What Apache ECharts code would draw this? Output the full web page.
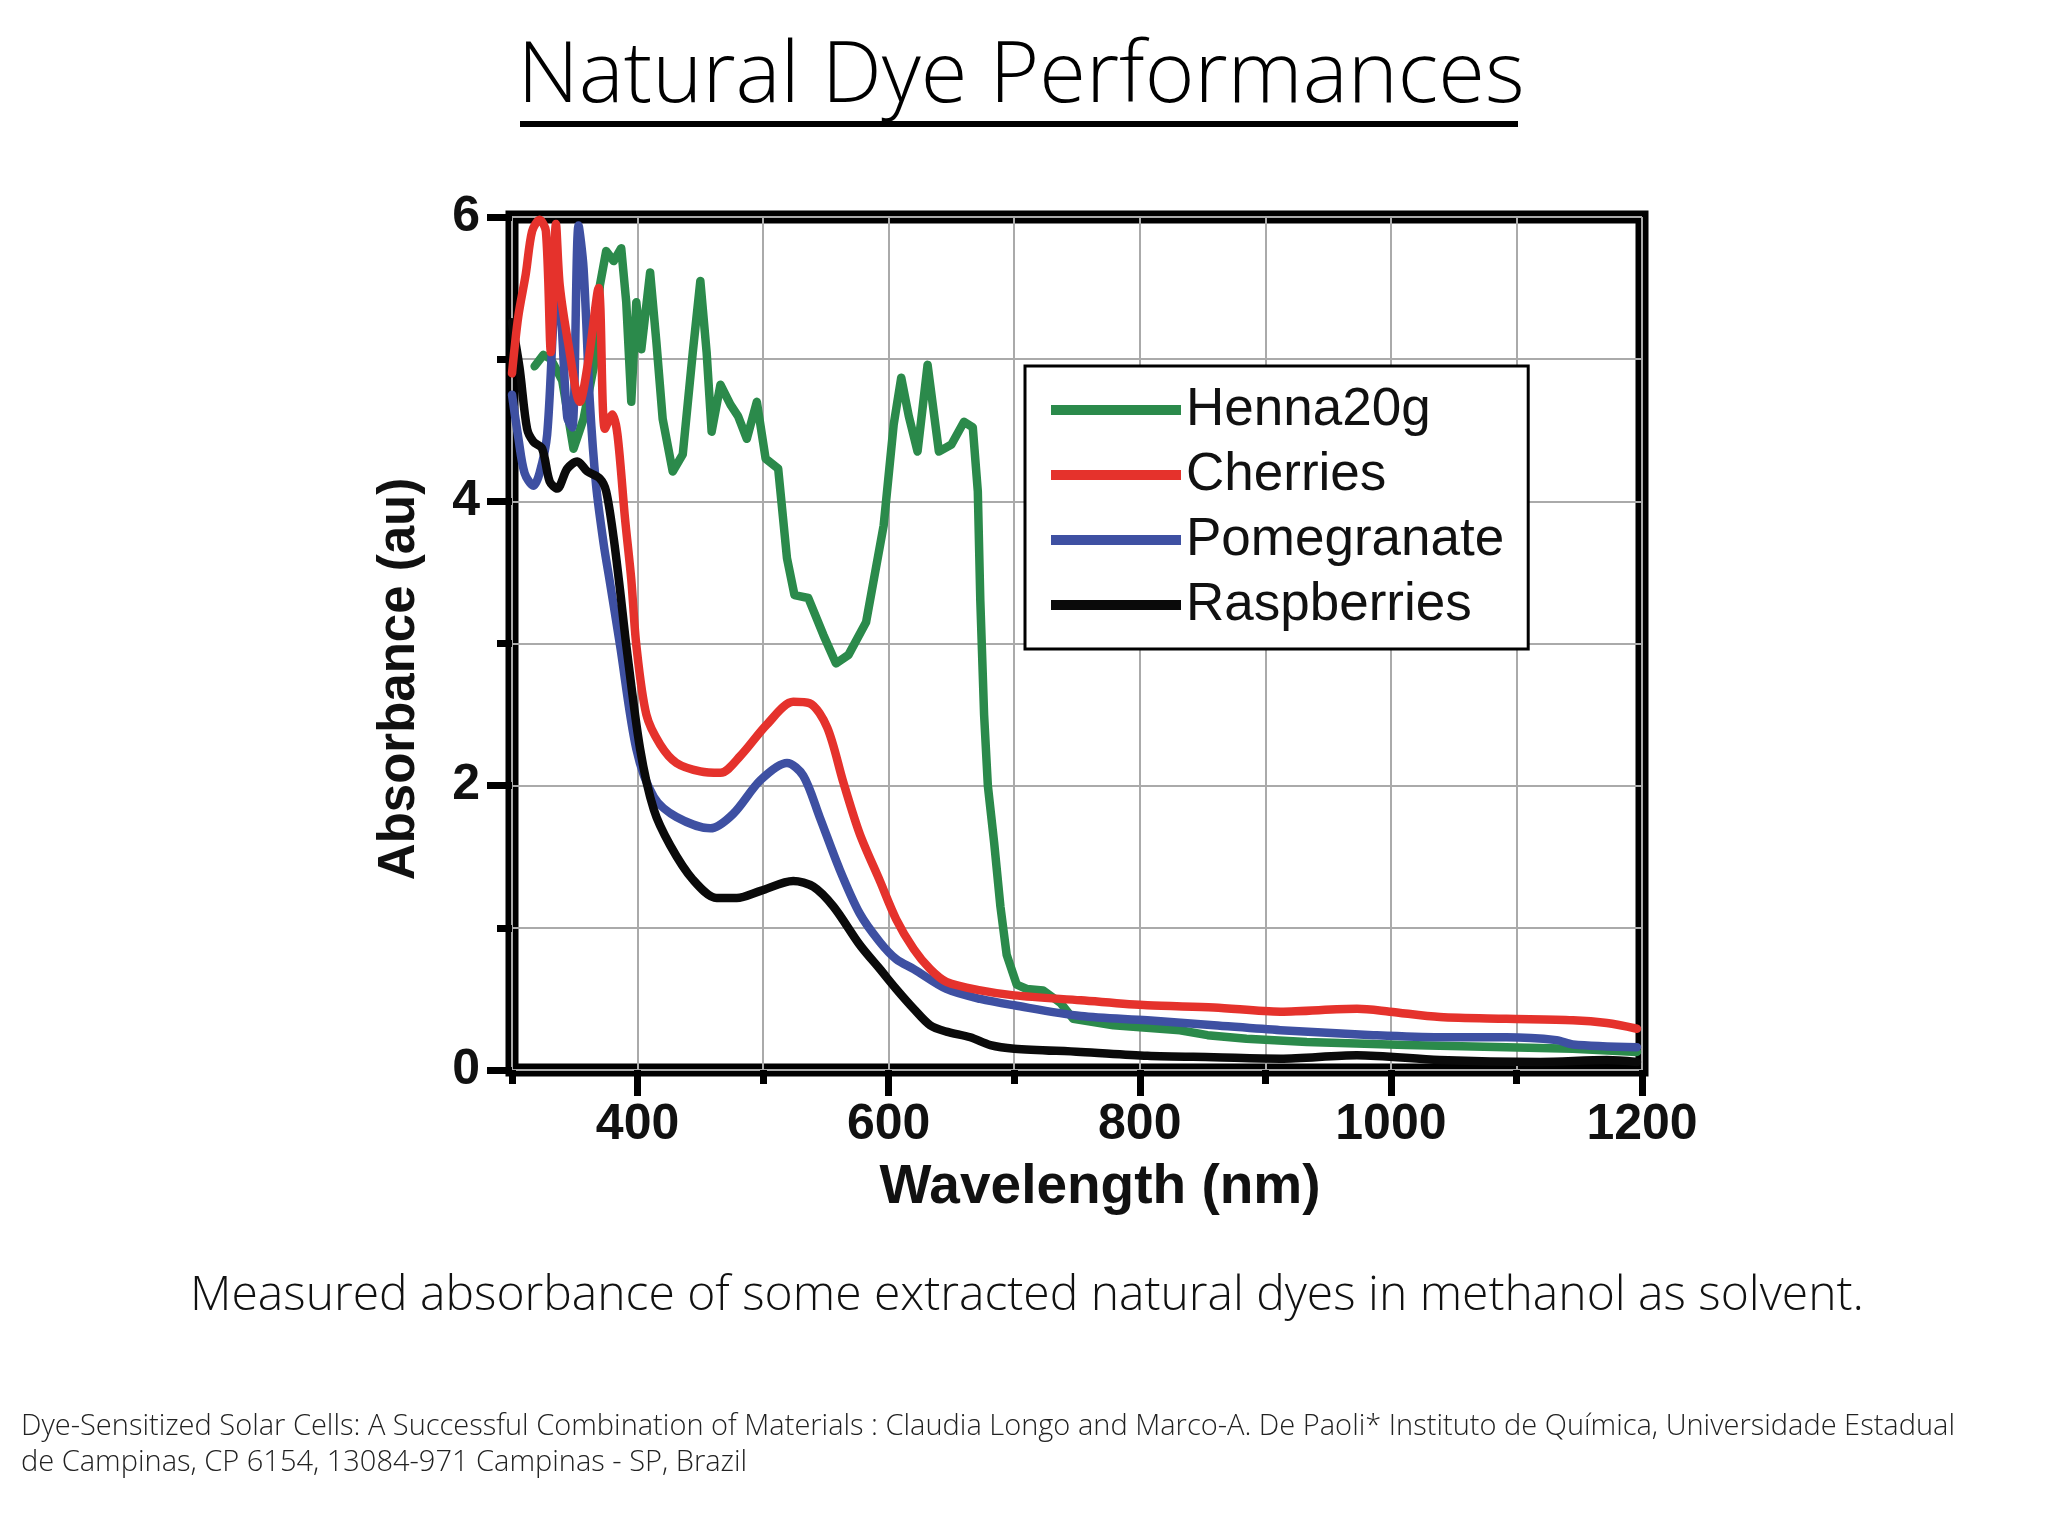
<!DOCTYPE html>
<html>
<head>
<meta charset="utf-8">
<script src="https://cdn.jsdelivr.net/npm/echarts@6/dist/echarts.min.js"></script>
<style>
  html, body { margin: 0; padding: 0; background: #fff; }
  #main { width: 2048px; height: 1536px; }
</style>
</head>
<body>
<div id="main"></div>
<script>
// wavelength (nm) / absorbance (au)
const hennaX = [318, 325, 331, 340, 349, 357, 365, 370, 375, 381, 387, 391, 395, 399, 403, 410, 415, 420, 428, 436, 444, 450, 455, 459, 466, 474, 480, 487, 495, 502, 512, 519, 525, 536, 548, 558, 568, 582, 596, 604, 610, 616, 623, 631, 640, 650, 660, 667, 671, 673, 676, 679, 684, 689, 694, 702, 710, 723, 737, 747, 779, 832, 854, 885, 933, 1012, 1092, 1145, 1196]
const hennaY = [4.95, 5.03, 5.0, 4.85, 4.37, 4.58, 4.94, 5.52, 5.76, 5.69, 5.78, 5.4, 4.7, 5.4, 5.07, 5.61, 5.12, 4.58, 4.21, 4.33, 5.05, 5.55, 5.05, 4.49, 4.82, 4.68, 4.6, 4.44, 4.7, 4.3, 4.23, 3.6, 3.34, 3.32, 3.06, 2.86, 2.92, 3.15, 3.83, 4.54, 4.87, 4.6, 4.35, 4.96, 4.35, 4.4, 4.56, 4.52, 4.07, 3.3, 2.5, 2.0, 1.6, 1.15, 0.81, 0.6, 0.57, 0.56, 0.47, 0.36, 0.315, 0.28, 0.245, 0.22, 0.197, 0.175, 0.16, 0.15, 0.127]

const cherriesX = [300, 305, 311, 316, 322, 327, 331, 335, 338, 345, 354, 361, 369, 374, 380, 384, 390, 395, 399, 407, 418, 431, 450, 466, 482, 503, 524, 537, 551, 564, 577, 593, 606, 620, 633, 646, 673, 700, 753, 806, 859, 912, 973, 999, 1039, 1092, 1145, 1172, 1196]
const cherriesY = [4.9, 5.3, 5.6, 5.9, 5.98, 5.9, 5.05, 5.95, 5.52, 5.1, 4.7, 5.0, 5.5, 4.51, 4.61, 4.47, 3.88, 3.45, 2.99, 2.5, 2.29, 2.16, 2.1, 2.09, 2.21, 2.43, 2.59, 2.58, 2.41, 2.02, 1.66, 1.33, 1.06, 0.85, 0.71, 0.62, 0.56, 0.525, 0.49, 0.455, 0.44, 0.41, 0.43, 0.41, 0.372, 0.36, 0.35, 0.33, 0.29]

const pomegranateX = [300, 305, 310, 317, 322, 328, 334, 337, 344, 348, 353, 357, 362, 367, 373, 378, 386, 399, 413, 431, 458, 476, 498, 519, 532, 545, 561, 577, 593, 606, 620, 646, 673, 700, 753, 806, 859, 912, 986, 1039, 1092, 1132, 1145, 1196]
const pomegranateY = [4.75, 4.45, 4.2, 4.11, 4.2, 4.47, 5.4, 5.43, 4.59, 4.52, 5.94, 5.64, 4.7, 4.11, 3.7, 3.43, 2.99, 2.26, 1.92, 1.78, 1.7, 1.8, 2.04, 2.16, 2.07, 1.78, 1.41, 1.1, 0.9, 0.78, 0.71, 0.57, 0.5, 0.455, 0.38, 0.35, 0.315, 0.28, 0.245, 0.23, 0.23, 0.21, 0.18, 0.16]

const raspberriesX = [300, 306, 312, 317, 324, 330, 336, 344, 352, 360, 370, 375, 381, 386, 391, 402, 413, 426, 444, 463, 479, 498, 524, 540, 556, 577, 593, 606, 620, 633, 646, 665, 681, 700, 753, 806, 859, 912, 973, 1039, 1119, 1172, 1196]
const raspberriesY = [5.26, 4.94, 4.51, 4.42, 4.37, 4.14, 4.09, 4.23, 4.28, 4.21, 4.16, 4.07, 3.74, 3.38, 2.99, 2.26, 1.83, 1.58, 1.34, 1.21, 1.21, 1.26, 1.33, 1.29, 1.15, 0.88, 0.71, 0.57, 0.43, 0.315, 0.27, 0.23, 0.175, 0.15, 0.127, 0.1, 0.09, 0.08, 0.104, 0.07, 0.057, 0.07, 0.057]

const seriesNames = ['Henna20g', 'Cherries', 'Pomegranate', 'Raspberries']
const xMajorTicks = [400, 600, 800, 1000, 1200]
const yMajorTicks = [0, 2, 4, 6]

const pairs = (xs, ys) => xs.map((x, i) => [x, ys[i]])

const chart = echarts.init(document.getElementById('main'))

const tickFont = { color: '#111', fontFamily: 'Liberation Sans', fontWeight: 'bold', fontSize: 50 }

function lineSeries(name, xs, ys, color, smooth) {
  return {
    name: name,
    type: 'line',
    xAxisIndex: 0,
    yAxisIndex: 0,
    showSymbol: false,
    symbol: 'none',
    smooth: smooth,
    lineStyle: { color: color, width: 8.5, join: 'round', cap: 'round' },
    itemStyle: { color: color },
    data: pairs(xs, ys)
  }
}

const option = {
  backgroundColor: '#fff',
  animation: false,
  grid: {
    left: 512,
    top: 217,
    width: 1130,
    height: 853,
    show: true,
    borderColor: '#000',
    borderWidth: 13,
    backgroundColor: 'transparent'
  },
  xAxis: [
    {
      type: 'value',
      min: 300,
      max: 1200,
      interval: 100,
      axisLine: { show: false },
      axisTick: { show: true, inside: false, length: 14, lineStyle: { color: '#000', width: 7 } },
      axisLabel: {
        margin: 30,
        ...tickFont,
        formatter: v => (xMajorTicks.indexOf(v) >= 0 ? String(v) : '')
      },
      splitLine: { show: true, lineStyle: { color: '#aaa', width: 2 } }
    },
    {
      type: 'value',
      min: 300,
      max: 1200,
      position: 'bottom',
      axisLine: { show: false },
      axisTick: { show: true, inside: false, length: 26, customValues: xMajorTicks, lineStyle: { color: '#000', width: 7 } },
      axisLabel: { show: false },
      splitLine: { show: false }
    }
  ],
  yAxis: [
    {
      type: 'value',
      min: 0,
      max: 6,
      interval: 1,
      axisLine: { show: false },
      axisTick: { show: true, inside: false, length: 15, lineStyle: { color: '#000', width: 7 } },
      axisLabel: {
        margin: 32,
        ...tickFont,
        formatter: v => (yMajorTicks.indexOf(v) >= 0 ? String(v) : '')
      },
      splitLine: { show: true, lineStyle: { color: '#aaa', width: 2 } }
    },
    {
      type: 'value',
      min: 0,
      max: 6,
      position: 'left',
      axisLine: { show: false },
      axisTick: { show: true, inside: false, length: 25, customValues: yMajorTicks, lineStyle: { color: '#000', width: 7 } },
      axisLabel: { show: false },
      splitLine: { show: false }
    }
  ],
  legend: {
    data: seriesNames,
    orient: 'vertical',
    left: 1025,
    top: 366,
    padding: [17, 24, 17, 26],
    itemGap: 11,
    itemWidth: 130,
    itemHeight: 10,
    icon: 'rect',
    backgroundColor: '#fff',
    borderColor: '#000',
    borderWidth: 3,
    textStyle: { color: '#111', fontFamily: 'Liberation Sans', fontSize: 53, lineHeight: 54 }
  },
  series: [
    lineSeries('Henna20g', hennaX, hennaY, '#2b8a4b', false),
    lineSeries('Pomegranate', pomegranateX, pomegranateY, '#3e50a2', 0.3),
    lineSeries('Raspberries', raspberriesX, raspberriesY, '#0a0a0a', 0.3),
    lineSeries('Cherries', cherriesX, cherriesY, '#e5322c', 0.3)
  ],
  graphic: [
    {
      type: 'text',
      style: {
        text: 'Natural Dye Performances',
        x: 1021, y: 78,
        align: 'center', verticalAlign: 'middle',
        font: '300 85px "Open Sans"', fill: '#000'
      }
    },
    { type: 'rect', shape: { x: 520, y: 121, width: 998, height: 6 }, style: { fill: '#000' } },
    {
      type: 'text',
      style: {
        text: 'Wavelength (nm)',
        x: 1100, y: 1188,
        align: 'center', verticalAlign: 'middle',
        font: 'bold 55px "Liberation Sans"', fill: '#111'
      }
    },
    {
      type: 'text',
      rotation: Math.PI / 2,
      x: 400, y: 679,
      style: {
        text: 'Absorbance (au)',
        x: 0, y: 0,
        align: 'center', verticalAlign: 'middle',
        font: 'bold 51px "Liberation Sans"', fill: '#111'
      }
    },
    {
      type: 'text',
      style: {
        text: 'Measured absorbance of some extracted natural dyes in methanol as solvent.',
        x: 1027, y: 1296,
        align: 'center', verticalAlign: 'middle',
        font: '300 48px "Open Sans"', fill: '#111'
      }
    },
    {
      type: 'text',
      style: {
        text: 'Dye-Sensitized Solar Cells: A Successful Combination of Materials : Claudia Longo and Marco-A. De Paoli* Instituto de Química, Universidade Estadual',
        x: 21, y: 1427,
        align: 'left', verticalAlign: 'middle',
        font: '300 29px "Open Sans"', fill: '#222'
      }
    },
    {
      type: 'text',
      style: {
        text: 'de Campinas, CP 6154, 13084-971 Campinas - SP, Brazil',
        x: 21, y: 1463,
        align: 'left', verticalAlign: 'middle',
        font: '300 29px "Open Sans"', fill: '#222'
      }
    }
  ]
}

option && chart.setOption(option)
</script>
</body>
</html>
